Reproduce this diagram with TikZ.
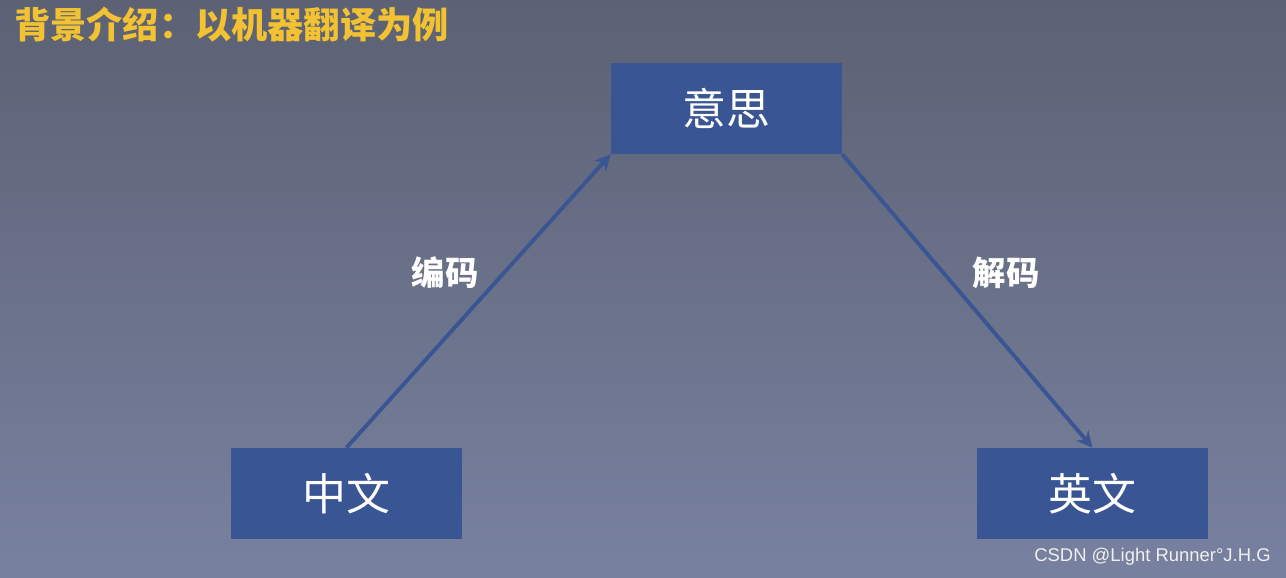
\documentclass[tikz,border=0pt]{standalone}
\usepackage{fontspec}
\newfontfamily\cjk{Noto Sans CJK SC}
\setsansfont{Liberation Sans}
\usetikzlibrary{arrows.meta, positioning}
\definecolor{bgtop}{HTML}{5C6173}
\definecolor{bgbot}{HTML}{7881A0}
\definecolor{boxblue}{HTML}{3A5594}
\definecolor{titleyellow}{HTML}{F2C232}

\begin{document}
\begin{tikzpicture}[x=0.02cm, y=-0.02cm,
    wordbox/.style={fill=boxblue, minimum width=4.62cm, minimum height=1.82cm, inner sep=0pt,
        text=white, font=\cjk\fontsize{25}{25}\selectfont},
    link/.style={draw=boxblue, line width=2.2pt, -{Stealth[length=9pt, width=9pt]}},
    linklabel/.style={text=white, inner sep=0pt, font=\cjk\bfseries\fontsize{19}{19}\selectfont}]
    % Background
    \shade[top color=bgtop, bottom color=bgbot] (0,0) rectangle (1286,578);
    \useasboundingbox (0,0) rectangle (1286,578);

    % Title
    \node[anchor=west, inner sep=0pt, text=titleyellow, font=\cjk\bfseries\fontsize{20.6}{20.6}\selectfont]
        (title) at (14,24) {背景介绍：以机器翻译为例};

    % Boxes
    \node[wordbox] (meaning) at (726.5,108.5) {意思};
    \node[wordbox] (chinese) at (346.5,493.5) {中文};
    \node[wordbox] (english) at (1092.5,493.5) {英文};

    % Encoder / decoder arrows
    \draw[link] (chinese.north) -- (meaning.south west);
    \draw[link] (meaning.south east) -- (english.north);
    \node[linklabel] (encode) at (445,273) {编码};
    \node[linklabel] (decode) at (1006,273) {解码};

    % Watermark
    \node[anchor=east, inner sep=0pt, text=white!88!gray, font=\sffamily\fontsize{10.5}{10.5}\selectfont]
        (mark) at (1271,557) {CSDN @Light Runner°J.H.G};
\end{tikzpicture}
\end{document}
